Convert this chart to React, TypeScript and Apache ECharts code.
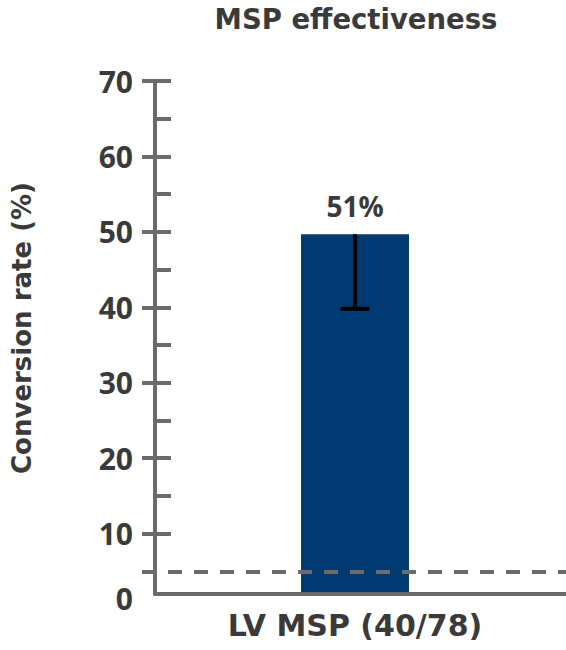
import React, { useEffect, useRef } from "react";
import * as echarts from "echarts";

const categories = ["LV MSP (40/78)"];
const barValues = [49.7];
const barLabels = ["51%"];
const errorLow = [39.8];
const thresholdValue = 5;
const yMin = 2;
const yMax = 70;
const majorTicks = [5, 10, 20, 30, 40, 50, 60, 70];
const minorTicks = [10, 15, 20, 25, 30, 35, 40, 45, 50, 55, 60, 65, 70];
const labelTicks = [2, 10, 20, 30, 40, 50, 60, 70];

const WORD_FONT = "'DejaVu Sans', sans-serif";
const NUM_FONT = "'Open Sans', 'Noto Sans', sans-serif";
const TEXT = "#3a3a3a";
const AXIS = "#6b6b6b";

export default function App() {
  const ref = useRef<HTMLDivElement>(null);
  useEffect(() => {
    if (!ref.current) return;
    const chart = echarts.init(ref.current, undefined, { renderer: "svg" });
    chart.setOption({
      animation: false,
      backgroundColor: "#ffffff",
      title: {
        text: "MSP effectiveness",
        left: 351,
        top: 0,
        textAlign: "center",
        textStyle: { fontFamily: WORD_FONT, fontSize: 27.5, fontWeight: "bold", color: TEXT },
      },
      grid: { left: 155, right: 11, top: 81, bottom: 56, containLabel: false, outerBoundsMode: "none" },
      xAxis: {
        type: "category",
        data: categories,
        axisLine: { show: true, lineStyle: { color: AXIS, width: 4 } },
        axisTick: { show: false },
        axisLabel: { fontFamily: WORD_FONT, fontSize: 30, fontWeight: "bold", color: TEXT, margin: 16 },
      },
      yAxis: [
        {
          type: "value",
          min: yMin,
          max: yMax,
          position: "left",
          name: "Conversion rate (%)",
          nameLocation: "middle",
          nameRotate: 90,
          nameGap: 120,
          nameTextStyle: { fontFamily: WORD_FONT, fontSize: 26, fontWeight: "bold", color: TEXT, padding: [0, 0, 0, 19] },
          axisLine: { show: true, lineStyle: { color: AXIS, width: 4 } },
          axisTick: { show: true, inside: false, length: 13, lineStyle: { color: AXIS, width: 4 }, customValues: majorTicks },
          axisLabel: {
            customValues: labelTicks,
            margin: 22,
            fontFamily: NUM_FONT,
            fontSize: 30,
            fontWeight: "bold",
            color: TEXT,
            formatter: (v: number) => (v === yMin ? "{z|0}" : String(v)),
            rich: { z: { fontFamily: NUM_FONT, fontSize: 30, fontWeight: "bold", color: TEXT, padding: [8, 0, 0, 0] } },
          },
          splitLine: { show: false },
        },
        {
          type: "value",
          min: yMin,
          max: yMax,
          position: "left",
          offset: 0,
          axisLine: { show: false },
          axisTick: { show: true, inside: true, length: 16, lineStyle: { color: AXIS, width: 4 }, customValues: minorTicks },
          axisLabel: { show: false },
          splitLine: { show: false },
        },
      ],
      series: [
        {
          type: "bar",
          data: barValues,
          barWidth: 108,
          clip: true,
          itemStyle: { color: "#003a70" },
          label: {
            show: true,
            position: "top",
            distance: 14,
            formatter: (p: any) => barLabels[p.dataIndex],
            fontFamily: NUM_FONT,
            fontSize: 28,
            fontWeight: "bold",
            color: TEXT,
          },
        },
        {
          type: "custom",
          clip: false,
          data: barValues.map((v, i) => [i, v, errorLow[i]]),
          renderItem: (params: any, api: any) => {
            const top = api.coord([api.value(0), api.value(1)]);
            const bot = api.coord([api.value(0), api.value(2)]);
            const style = { stroke: "#000000", lineWidth: 4 };
            return {
              type: "group",
              children: [
                { type: "line", shape: { x1: top[0], y1: top[1], x2: bot[0], y2: bot[1] }, style },
                { type: "line", shape: { x1: bot[0] - 14.5, y1: bot[1], x2: bot[0] + 14.5, y2: bot[1] }, style },
              ],
            };
          },
          z: 5,
          markLine: {
            silent: true,
            symbol: ["none", "none"],
            label: { show: false },
            data: [
              [
                { yAxis: thresholdValue, x: 168, lineStyle: { color: AXIS, width: 4, type: [14, 12] } },
                { yAxis: thresholdValue, x: 566 },
              ],
              [
                { yAxis: yMin, x: 155, lineStyle: { color: AXIS, width: 4, type: "solid" } },
                { yAxis: yMin, x: 566 },
              ],
            ],
          },
        },
      ],
    });
    return () => chart.dispose();
  }, []);
  return <div ref={ref} style={{ width: 566, height: 650, position: "absolute", left: 0, top: 0 }} />;
}
